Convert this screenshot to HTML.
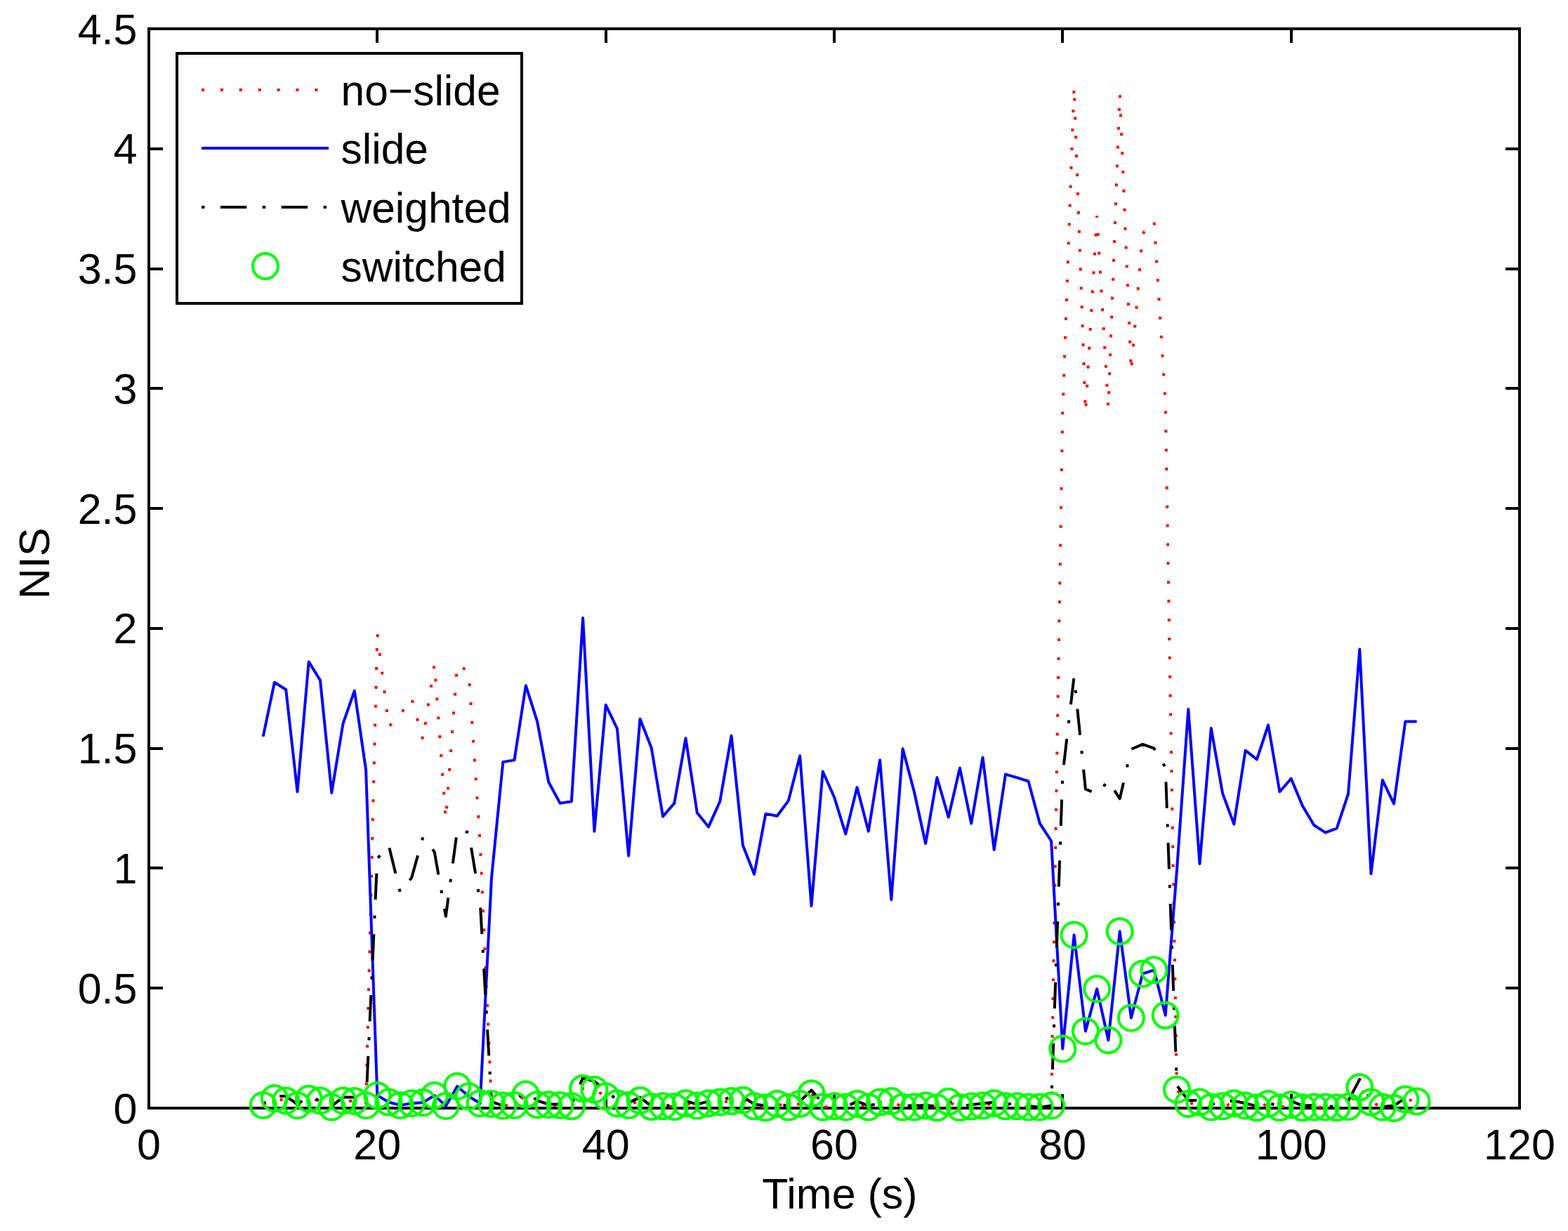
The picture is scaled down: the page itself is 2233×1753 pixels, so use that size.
<!DOCTYPE html>
<html><head><meta charset="utf-8"><title>NIS</title>
<style>
html,body{margin:0;padding:0;background:#fff;}
svg{display:block;}
text{font-family:"Liberation Sans",Arial,Helvetica,sans-serif;fill:#000;}
</style></head><body>
<svg width="2233" height="1753" viewBox="0 0 2233 1753">
<rect x="0" y="0" width="2233" height="1753" fill="#fff"/>
<g font-size="61" text-anchor="end">
<text x="195.5" y="1599.5">0</text>
<text x="195.5" y="1428.7">0.5</text>
<text x="195.5" y="1257.9">1</text>
<text x="195.5" y="1087.2">1.5</text>
<text x="195.5" y="916.4">2</text>
<text x="195.5" y="745.6">2.5</text>
<text x="195.5" y="574.8">3</text>
<text x="195.5" y="404.1">3.5</text>
<text x="195.5" y="233.3">4</text>
<text x="195.5" y="62.5">4.5</text>
</g>
<g font-size="61" text-anchor="middle">
<text x="212.0" y="1651.0">0</text>
<text x="537.3" y="1651.0">20</text>
<text x="862.7" y="1651.0">40</text>
<text x="1188.0" y="1651.0">60</text>
<text x="1513.3" y="1651.0">80</text>
<text x="1838.7" y="1651.0">100</text>
<text x="2164.0" y="1651.0">120</text>
</g>
<text x="1196.0" y="1721.0" font-size="61" text-anchor="middle">Time (s)</text>
<text transform="translate(70,802.5) rotate(-90)" font-size="61" text-anchor="middle">NIS</text>
<g fill="#000">
<rect x="210" y="39" width="1956" height="4"/>
<rect x="210" y="1576" width="1956" height="4"/>
<rect x="210" y="39" width="4" height="1541"/>
<rect x="2162" y="39" width="4" height="1541"/>
<rect x="210" y="1405" width="22" height="4"/>
<rect x="2144" y="1405" width="22" height="4"/>
<rect x="210" y="1234" width="22" height="4"/>
<rect x="2144" y="1234" width="22" height="4"/>
<rect x="210" y="1064" width="22" height="4"/>
<rect x="2144" y="1064" width="22" height="4"/>
<rect x="210" y="893" width="22" height="4"/>
<rect x="2144" y="893" width="22" height="4"/>
<rect x="210" y="722" width="22" height="4"/>
<rect x="2144" y="722" width="22" height="4"/>
<rect x="210" y="551" width="22" height="4"/>
<rect x="2144" y="551" width="22" height="4"/>
<rect x="210" y="381" width="22" height="4"/>
<rect x="2144" y="381" width="22" height="4"/>
<rect x="210" y="210" width="22" height="4"/>
<rect x="2144" y="210" width="22" height="4"/>
<rect x="210" y="39" width="22" height="4"/>
<rect x="2144" y="39" width="22" height="4"/>
<rect x="535" y="39" width="4" height="22"/>
<rect x="535" y="1558" width="4" height="22"/>
<rect x="861" y="39" width="4" height="22"/>
<rect x="861" y="1558" width="4" height="22"/>
<rect x="1186" y="39" width="4" height="22"/>
<rect x="1186" y="1558" width="4" height="22"/>
<rect x="1511" y="39" width="4" height="22"/>
<rect x="1511" y="1558" width="4" height="22"/>
<rect x="1837" y="39" width="4" height="22"/>
<rect x="1837" y="1558" width="4" height="22"/>
</g>
<polyline points="374.7,1573.9 390.9,1564.0 407.2,1567.4 423.5,1574.2 439.7,1564.7 456.0,1567.4 472.3,1576.6 488.5,1567.4 504.8,1568.1 521.1,1574.2 537.3,901.7 553.6,1034.9 569.9,1017.8 586.1,993.9 602.4,1053.7 618.7,946.1 634.9,1166.4 651.2,946.1 667.5,956.4 683.7,1198.9 700.0,1571.9 716.3,1574.6 732.5,1573.9 748.8,1558.5 765.1,1573.2 781.3,1573.2 797.6,1573.9 813.9,1575.3 830.1,1550.0 846.4,1551.7 862.7,1561.3 878.9,1571.2 895.2,1573.9 911.5,1567.1 927.7,1576.0 944.0,1575.3 960.3,1576.0 976.5,1571.2 992.8,1574.6 1009.1,1571.2 1025.3,1569.5 1041.6,1568.1 1057.9,1566.7 1074.1,1575.3 1090.4,1577.3 1106.7,1571.9 1122.9,1576.6 1139.2,1571.9 1155.5,1557.2 1171.7,1576.6 1188.0,1575.3 1204.3,1576.6 1220.5,1571.9 1236.8,1576.6 1253.1,1569.5 1269.3,1568.1 1285.6,1576.6 1301.9,1576.6 1318.1,1574.6 1334.4,1577.3 1350.7,1568.8 1366.9,1577.3 1383.2,1575.6 1399.5,1574.6 1415.7,1571.2 1432.0,1575.3 1448.3,1575.3 1464.5,1576.6 1480.8,1576.6 1497.1,1574.6 1513.3,587.5 1529.6,123.0 1545.9,587.5 1562.1,307.4 1578.4,580.7 1594.7,133.2 1610.9,529.4 1627.2,333.0 1643.5,314.2 1659.7,573.8 1676.0,1551.7 1692.3,1571.9 1708.5,1569.5 1724.8,1576.6 1741.1,1575.3 1757.3,1571.2 1773.6,1574.6 1789.9,1577.3 1806.1,1571.9 1822.4,1577.3 1838.7,1573.2 1854.9,1577.3 1871.2,1576.6 1887.5,1576.6 1903.7,1577.3 1920.0,1576.0 1936.3,1548.3 1952.5,1569.5 1968.8,1576.6 1985.1,1578.0 2001.3,1565.4 2017.6,1568.4" fill="none" stroke="#f00" stroke-width="4" stroke-dasharray="4 22.9" stroke-linejoin="miter"/>
<polyline points="374.7,1048.9 390.9,971.7 407.2,982.0 423.5,1127.5 439.7,942.4 456.0,968.7 472.3,1128.9 488.5,1030.5 504.8,983.7 521.1,1096.4 537.3,1559.9 553.6,1569.5 569.9,1573.9 586.1,1571.2 602.4,1570.1 618.7,1559.9 634.9,1574.9 651.2,1546.9 667.5,1561.3 683.7,1571.2 700.0,1250.1 716.3,1085.1 732.5,1082.4 748.8,976.2 765.1,1027.4 781.3,1113.8 797.6,1143.9 813.9,1141.2 830.1,879.9 846.4,1183.8 862.7,1003.8 878.9,1037.7 895.2,1218.7 911.5,1023.7 927.7,1065.0 944.0,1162.7 960.3,1143.9 976.5,1051.3 992.8,1157.5 1009.1,1177.4 1025.3,1141.2 1041.6,1047.6 1057.9,1203.7 1074.1,1245.0 1090.4,1158.9 1106.7,1162.0 1122.9,1140.1 1139.2,1076.3 1155.5,1290.1 1171.7,1098.8 1188.0,1135.0 1204.3,1187.6 1220.5,1121.3 1236.8,1183.8 1253.1,1082.4 1269.3,1281.2 1285.6,1066.3 1301.9,1127.5 1318.1,1201.3 1334.4,1107.3 1350.7,1163.7 1366.9,1093.7 1383.2,1172.6 1399.5,1078.6 1415.7,1210.1 1432.0,1102.6 1448.3,1107.3 1464.5,1112.5 1480.8,1172.6 1497.1,1197.5 1513.3,1493.6 1529.6,1331.4 1545.9,1468.4 1562.1,1408.2 1578.4,1481.3 1594.7,1326.3 1610.9,1449.6 1627.2,1386.7 1643.5,1381.3 1659.7,1445.8 1676.0,1238.5 1692.3,1010.0 1708.5,1230.0 1724.8,1037.0 1741.1,1129.9 1757.3,1173.6 1773.6,1068.7 1789.9,1081.4 1806.1,1032.5 1822.4,1127.5 1838.7,1108.7 1854.9,1147.6 1871.2,1175.0 1887.5,1185.6 1903.7,1179.7 1920.0,1130.6 1936.3,924.6 1952.5,1244.3 1968.8,1110.8 1985.1,1144.6 2001.3,1027.4 2017.6,1027.4" fill="none" stroke="#00f" stroke-width="4" stroke-linejoin="round"/>
<polyline points="374.7,1571.9 390.9,1560.9 407.2,1560.9 423.5,1572.5 439.7,1560.9 456.0,1567.8 472.3,1574.9 488.5,1562.6 504.8,1562.6 521.1,1573.9 537.3,1222.8 553.6,1204.0 569.9,1270.6 586.1,1250.1 602.4,1192.0 618.7,1213.2 634.9,1304.8 651.2,1181.8 667.5,1185.2 683.7,1284.3 700.0,1568.8 716.3,1574.6 732.5,1567.1 748.8,1554.4 765.1,1567.4 781.3,1572.5 797.6,1572.5 813.9,1572.9 830.1,1534.6 846.4,1540.1 862.7,1552.0 878.9,1567.1 895.2,1570.5 911.5,1562.6 927.7,1575.3 944.0,1574.6 960.3,1573.9 976.5,1567.8 992.8,1572.5 1009.1,1568.4 1025.3,1567.8 1041.6,1561.9 1057.9,1561.9 1074.1,1572.5 1090.4,1574.6 1106.7,1571.2 1122.9,1575.3 1139.2,1568.4 1155.5,1552.4 1171.7,1571.2 1188.0,1571.2 1204.3,1576.6 1220.5,1568.4 1236.8,1574.6 1253.1,1571.2 1269.3,1567.1 1285.6,1574.6 1301.9,1574.6 1318.1,1573.9 1334.4,1575.3 1350.7,1567.8 1366.9,1575.3 1383.2,1573.2 1399.5,1571.2 1415.7,1569.8 1432.0,1571.9 1448.3,1571.9 1464.5,1574.6 1480.8,1577.0 1497.1,1574.6 1513.3,1103.2 1529.6,963.2 1545.9,1123.7 1562.1,1130.6 1578.4,1111.8 1594.7,1137.4 1610.9,1067.0 1627.2,1059.9 1643.5,1065.7 1659.7,1093.0 1676.0,1545.9 1692.3,1567.1 1708.5,1567.1 1724.8,1573.2 1741.1,1567.8 1757.3,1567.8 1773.6,1571.2 1789.9,1575.3 1806.1,1571.2 1822.4,1574.6 1838.7,1567.8 1854.9,1574.6 1871.2,1573.9 1887.5,1576.6 1903.7,1574.6 1920.0,1567.8 1936.3,1537.0 1952.5,1567.8 1968.8,1576.0 1985.1,1574.6 2001.3,1563.7 2017.6,1567.8" fill="none" stroke="#000" stroke-width="4" stroke-dasharray="4.4 22.5 37.4 22.5" stroke-linejoin="round"/>
<g fill="none" stroke="#0f0" stroke-width="4">
<circle cx="374.7" cy="1573.9" r="18"/>
<circle cx="390.9" cy="1564.0" r="18"/>
<circle cx="407.2" cy="1567.4" r="18"/>
<circle cx="423.5" cy="1574.2" r="18"/>
<circle cx="439.7" cy="1564.7" r="18"/>
<circle cx="456.0" cy="1567.4" r="18"/>
<circle cx="472.3" cy="1576.6" r="18"/>
<circle cx="488.5" cy="1567.4" r="18"/>
<circle cx="504.8" cy="1568.1" r="18"/>
<circle cx="521.1" cy="1574.2" r="18"/>
<circle cx="537.3" cy="1559.9" r="18"/>
<circle cx="553.6" cy="1569.5" r="18"/>
<circle cx="569.9" cy="1573.9" r="18"/>
<circle cx="586.1" cy="1571.2" r="18"/>
<circle cx="602.4" cy="1570.1" r="18"/>
<circle cx="618.7" cy="1559.9" r="18"/>
<circle cx="634.9" cy="1574.9" r="18"/>
<circle cx="651.2" cy="1546.9" r="18"/>
<circle cx="667.5" cy="1561.3" r="18"/>
<circle cx="683.7" cy="1571.2" r="18"/>
<circle cx="700.0" cy="1571.9" r="18"/>
<circle cx="716.3" cy="1574.6" r="18"/>
<circle cx="732.5" cy="1573.9" r="18"/>
<circle cx="748.8" cy="1558.5" r="18"/>
<circle cx="765.1" cy="1573.2" r="18"/>
<circle cx="781.3" cy="1573.2" r="18"/>
<circle cx="797.6" cy="1573.9" r="18"/>
<circle cx="813.9" cy="1575.3" r="18"/>
<circle cx="830.1" cy="1550.0" r="18"/>
<circle cx="846.4" cy="1551.7" r="18"/>
<circle cx="862.7" cy="1561.3" r="18"/>
<circle cx="878.9" cy="1571.2" r="18"/>
<circle cx="895.2" cy="1573.9" r="18"/>
<circle cx="911.5" cy="1567.1" r="18"/>
<circle cx="927.7" cy="1576.0" r="18"/>
<circle cx="944.0" cy="1575.3" r="18"/>
<circle cx="960.3" cy="1576.0" r="18"/>
<circle cx="976.5" cy="1571.2" r="18"/>
<circle cx="992.8" cy="1574.6" r="18"/>
<circle cx="1009.1" cy="1571.2" r="18"/>
<circle cx="1025.3" cy="1569.5" r="18"/>
<circle cx="1041.6" cy="1568.1" r="18"/>
<circle cx="1057.9" cy="1566.7" r="18"/>
<circle cx="1074.1" cy="1575.3" r="18"/>
<circle cx="1090.4" cy="1577.3" r="18"/>
<circle cx="1106.7" cy="1571.9" r="18"/>
<circle cx="1122.9" cy="1576.6" r="18"/>
<circle cx="1139.2" cy="1571.9" r="18"/>
<circle cx="1155.5" cy="1557.2" r="18"/>
<circle cx="1171.7" cy="1576.6" r="18"/>
<circle cx="1188.0" cy="1575.3" r="18"/>
<circle cx="1204.3" cy="1576.6" r="18"/>
<circle cx="1220.5" cy="1571.9" r="18"/>
<circle cx="1236.8" cy="1576.6" r="18"/>
<circle cx="1253.1" cy="1569.5" r="18"/>
<circle cx="1269.3" cy="1568.1" r="18"/>
<circle cx="1285.6" cy="1576.6" r="18"/>
<circle cx="1301.9" cy="1576.6" r="18"/>
<circle cx="1318.1" cy="1574.6" r="18"/>
<circle cx="1334.4" cy="1577.3" r="18"/>
<circle cx="1350.7" cy="1568.8" r="18"/>
<circle cx="1366.9" cy="1577.3" r="18"/>
<circle cx="1383.2" cy="1575.6" r="18"/>
<circle cx="1399.5" cy="1574.6" r="18"/>
<circle cx="1415.7" cy="1571.2" r="18"/>
<circle cx="1432.0" cy="1575.3" r="18"/>
<circle cx="1448.3" cy="1575.3" r="18"/>
<circle cx="1464.5" cy="1576.6" r="18"/>
<circle cx="1480.8" cy="1576.6" r="18"/>
<circle cx="1497.1" cy="1574.6" r="18"/>
<circle cx="1513.3" cy="1493.6" r="18"/>
<circle cx="1529.6" cy="1331.4" r="18"/>
<circle cx="1545.9" cy="1468.4" r="18"/>
<circle cx="1562.1" cy="1408.2" r="18"/>
<circle cx="1578.4" cy="1481.3" r="18"/>
<circle cx="1594.7" cy="1326.3" r="18"/>
<circle cx="1610.9" cy="1449.6" r="18"/>
<circle cx="1627.2" cy="1386.7" r="18"/>
<circle cx="1643.5" cy="1381.3" r="18"/>
<circle cx="1659.7" cy="1445.8" r="18"/>
<circle cx="1676.0" cy="1551.7" r="18"/>
<circle cx="1692.3" cy="1571.9" r="18"/>
<circle cx="1708.5" cy="1569.5" r="18"/>
<circle cx="1724.8" cy="1576.6" r="18"/>
<circle cx="1741.1" cy="1575.3" r="18"/>
<circle cx="1757.3" cy="1571.2" r="18"/>
<circle cx="1773.6" cy="1574.6" r="18"/>
<circle cx="1789.9" cy="1577.3" r="18"/>
<circle cx="1806.1" cy="1571.9" r="18"/>
<circle cx="1822.4" cy="1577.3" r="18"/>
<circle cx="1838.7" cy="1573.2" r="18"/>
<circle cx="1854.9" cy="1577.3" r="18"/>
<circle cx="1871.2" cy="1576.6" r="18"/>
<circle cx="1887.5" cy="1576.6" r="18"/>
<circle cx="1903.7" cy="1577.3" r="18"/>
<circle cx="1920.0" cy="1576.0" r="18"/>
<circle cx="1936.3" cy="1548.3" r="18"/>
<circle cx="1952.5" cy="1569.5" r="18"/>
<circle cx="1968.8" cy="1576.6" r="18"/>
<circle cx="1985.1" cy="1578.0" r="18"/>
<circle cx="2001.3" cy="1565.4" r="18"/>
<circle cx="2017.6" cy="1568.4" r="18"/>
</g>
<rect x="252" y="76" width="491" height="356" fill="#fff" stroke="#000" stroke-width="4"/>
<line x1="287" y1="128" x2="468" y2="128" stroke="#f00" stroke-width="4" stroke-dasharray="4 22.9"/>
<line x1="287" y1="211" x2="468" y2="211" stroke="#00f" stroke-width="4"/>
<line x1="287" y1="295" x2="468" y2="295" stroke="#000" stroke-width="4" stroke-dasharray="4.4 22.5 37.4 22.5"/>
<circle cx="378" cy="379" r="18" fill="none" stroke="#0f0" stroke-width="4"/>
<g font-size="60.5">
<text x="485.5" y="149.5">no−slide</text>
<text x="485.5" y="233.4">slide</text>
<text x="485.5" y="317">weighted</text>
<text x="485.5" y="401">switched</text>
</g>
</svg>
</body></html>
